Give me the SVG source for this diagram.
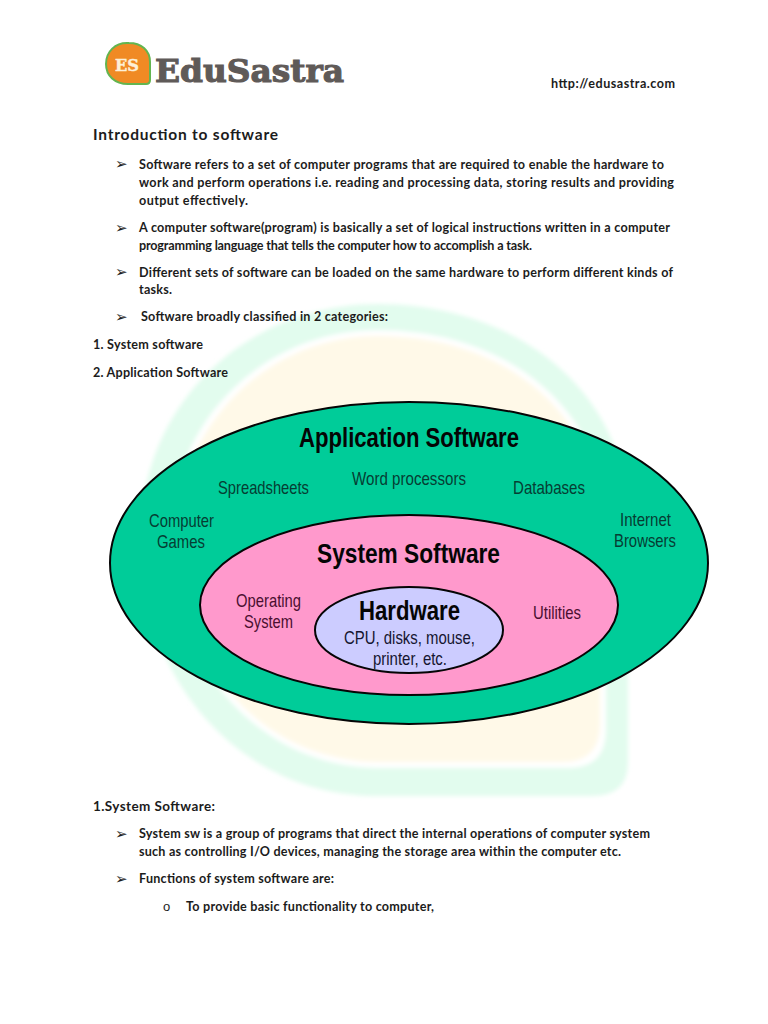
<svg xmlns="http://www.w3.org/2000/svg" width="768" height="1024" viewBox="0 0 768 1024">
<style>
text{font-family:Lato,"Liberation Sans",sans-serif;fill:#1c1c1c;font-weight:700;font-size:12.6px}
.b{font-family:"DejaVu Sans",sans-serif;font-size:15px;font-weight:400}
.d{font-family:"Liberation Sans",Arial,sans-serif;font-weight:400;font-size:18.5px;fill:#063d33;text-anchor:middle}
.p{fill:#4a0f30}
.k{fill:#151530}
.h{font-family:"Liberation Sans",Arial,sans-serif;font-weight:700;font-size:27px;fill:#050505;text-anchor:middle}
.e{stroke:#050505;stroke-width:2}
</style>
<defs><filter id="soft" x="-5%" y="-5%" width="110%" height="110%"><feGaussianBlur stdDeviation="2"/></filter></defs>
<rect width="768" height="1024" fill="#fff"/>
<g id="watermark" filter="url(#soft)">
<path d="M378 304C520 304 628 395 628 520V762Q628 796 592 796H378C240 796 140 680 140 540C140 400 250 304 378 304Z" fill="#e2fcee"/>
<path d="M378 330C510 330 606 412 606 525V730Q606 768 568 768H380C255 768 170 660 170 540C170 420 265 330 378 330Z" fill="#fff"/>
<path d="M378 336C505 336 600 414 600 525V724Q600 762 562 762H380C260 762 176 660 176 540C176 425 268 336 378 336Z" fill="#fff9e8"/>
</g>
<g id="logo">
<path d="M129 43C115 42 106 52 106 64C106 76 115 84 128 84H146Q150 84 150 80V62C150 50 141 43 129 43Z" fill="#f08a24" stroke="#63b54f" stroke-width="2"/>
<text x="127" y="71" text-anchor="middle" textLength="24" lengthAdjust="spacingAndGlyphs" style="font-family:'DejaVu Serif',serif;font-size:17px;font-weight:700;fill:#fdf0d8;stroke:#fdf0d8;stroke-width:.5">ES</text>
<text x="155" y="82" textLength="189" lengthAdjust="spacingAndGlyphs" style="font-family:'DejaVu Serif',serif;font-size:32px;font-weight:700;fill:#5f5a58;stroke:#5f5a58;stroke-width:1.1">EduSastra</text>
</g>
<text x="551" y="88" textLength="124">http://edusastra.com</text>
<text x="93" y="140" textLength="185" style="font-size:15.5px">Introduction to software</text>
<g id="body">
<text class="b" x="115" y="169">➢</text>
<text x="139" y="169" textLength="525">Software refers to a set of computer programs that are required to enable the hardware to</text>
<text x="139" y="187" textLength="535">work and perform operations i.e. reading and processing data, storing results and providing</text>
<text x="139" y="205" textLength="109">output effectively.</text>
<text class="b" x="115" y="233">➢</text>
<text x="139" y="232" textLength="531">A computer software(program) is basically a set of logical instructions written in a computer</text>
<text x="139" y="250" textLength="393">programming language that tells the computer how to accomplish a task.</text>
<text class="b" x="115" y="277">➢</text>
<text x="139" y="277" textLength="534">Different sets of software can be loaded on the same hardware to perform different kinds of</text>
<text x="139" y="294" textLength="33">tasks.</text>
<text class="b" x="115" y="322">➢</text>
<text x="141" y="321" textLength="247">Software broadly classified in 2 categories:</text>
<text x="93" y="349" textLength="110">1. System software</text>
<text x="93" y="377" textLength="135">2. Application Software</text>
</g>
<g id="application">
<ellipse class="e" cx="409" cy="563" rx="299" ry="161" fill="#00cc99"/>
<text class="h" x="409" y="447" textLength="220" lengthAdjust="spacingAndGlyphs">Application Software</text>
<text class="d" x="263.500" y="494" textLength="91" lengthAdjust="spacingAndGlyphs">Spreadsheets</text>
<text class="d" x="409" y="485" textLength="114" lengthAdjust="spacingAndGlyphs">Word processors</text>
<text class="d" x="549" y="494" textLength="72" lengthAdjust="spacingAndGlyphs">Databases</text>
<text class="d" x="181.500" y="527" textLength="65" lengthAdjust="spacingAndGlyphs">Computer</text><text class="d" x="181" y="548" textLength="48" lengthAdjust="spacingAndGlyphs">Games</text>
<text class="d" x="645.500" y="526" textLength="51" lengthAdjust="spacingAndGlyphs">Internet</text><text class="d" x="645" y="547" textLength="62" lengthAdjust="spacingAndGlyphs">Browsers</text>
</g>
<g id="system">
<ellipse class="e" cx="409" cy="605" rx="209" ry="90" fill="#ff99cc"/>
<text class="h" x="408.500" y="563" textLength="183" lengthAdjust="spacingAndGlyphs">System Software</text>
<text class="d p" x="268.500" y="607" textLength="65" lengthAdjust="spacingAndGlyphs">Operating</text><text class="d p" x="268.500" y="628" textLength="49" lengthAdjust="spacingAndGlyphs">System</text>
<text class="d p" x="557" y="619" textLength="48" lengthAdjust="spacingAndGlyphs">Utilities</text>
</g>
<g id="hardware">
<ellipse class="e" cx="409" cy="630" rx="94" ry="43" fill="#ccccff"/>
<text class="h" x="409.500" y="620" textLength="101" lengthAdjust="spacingAndGlyphs">Hardware</text>
<text class="d k" x="409.500" y="644" textLength="131" lengthAdjust="spacingAndGlyphs">CPU, disks, mouse,</text>
<text class="d k" x="410" y="665" textLength="74" lengthAdjust="spacingAndGlyphs">printer, etc.</text>
</g>
<g id="section">
<text x="93" y="811" textLength="122" style="font-size:13.5px">1.System Software:</text>
<text class="b" x="115" y="839">➢</text>
<text x="139" y="838" textLength="511">System sw is a group of programs that direct the internal operations of computer system</text>
<text x="139" y="856" textLength="482">such as controlling I/O devices, managing the storage area within the computer etc.</text>
<text class="b" x="115" y="884">➢</text>
<text x="139" y="883" textLength="195">Functions of system software are:</text>
<text x="163" y="911" style="font-family:'Liberation Sans';font-size:13px;font-weight:400">o</text>
<text x="186" y="911" textLength="248">To provide basic functionality to computer,</text>
</g>
</svg>
